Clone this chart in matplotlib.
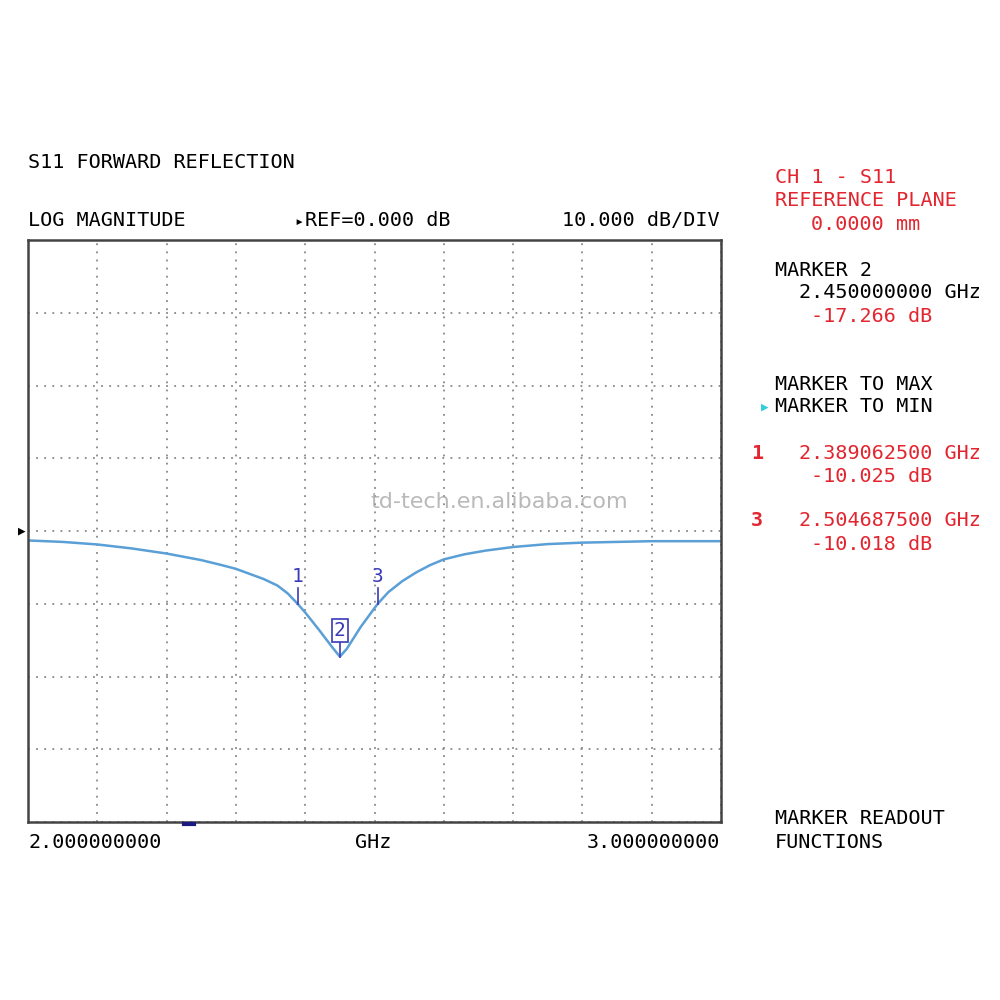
import matplotlib
matplotlib.use("Agg")
import matplotlib.pyplot as plt
import numpy as np

# S11 trace
freq_ghz = [2.00, 2.05, 2.10, 2.15, 2.20, 2.25, 2.28, 2.30, 2.32, 2.34, 2.36, 2.375,
            2.389, 2.40, 2.42, 2.44, 2.45, 2.46, 2.48, 2.50, 2.5047, 2.52, 2.54,
            2.56, 2.58, 2.60, 2.63, 2.66, 2.70, 2.75, 2.80, 2.85, 2.90, 2.95, 3.00]
s11_db = [-1.3, -1.5, -1.85, -2.4, -3.1, -4.0, -4.7, -5.2, -5.9, -6.6, -7.5, -8.6,
          -10.0, -11.2, -13.6, -16.1, -17.27, -16.2, -13.2, -10.6, -10.0, -8.4, -6.9,
          -5.7, -4.7, -3.9, -3.2, -2.7, -2.2, -1.8, -1.6, -1.5, -1.4, -1.4, -1.4]

marker_ids = ["1", "2", "3"]
marker_freq = [2.389062500, 2.450000000, 2.504687500]
marker_db = [-10.025, -17.266, -10.018]

MONO = "DejaVu Sans Mono"
FS = 14.5
RED = "#e2252f"
MK = "#3a3ab8"
TRACE = "#5a9fd6"

fig = plt.figure(figsize=(10, 10), dpi=100)
ax = fig.add_axes([0.028, 0.178, 0.693, 0.582])
ax.plot(freq_ghz, s11_db, color=TRACE, lw=1.8, solid_joinstyle="round")
ax.set_xlim(2.0, 3.0)
ax.set_ylim(-40, 40)
ax.set_xticks(np.linspace(2.0, 3.0, 11))
ax.set_yticks(np.linspace(-40, 40, 9))
ax.tick_params(length=0, labelbottom=False, labelleft=False)
ax.grid(True, color="#888888", linestyle=(0, (1, 3.5)), lw=1.3)
for s in ax.spines.values():
    s.set_color("#444444")
    s.set_linewidth(1.8)

# markers
for mid, f, v in zip(marker_ids, marker_freq, marker_db):
    if mid == "2":
        ax.plot([f, f], [v, v + 2.5], color=MK, lw=1.2)
        ax.text(f, v + 3.6, mid, ha="center", va="center", color=MK, fontsize=14,
                family=MONO, bbox=dict(boxstyle="square,pad=0.1", fc="white", ec=MK, lw=1.2))
    else:
        ax.plot([f, f], [v, v + 2.2], color=MK, lw=1.2)
        ax.text(f, v + 3.8, mid, ha="center", va="center", color=MK, fontsize=14, family=MONO)

# small bottom dash
ax.plot([2.225, 2.24], [-40.3, -40.3], color="#1a1a80", lw=3, clip_on=False, zorder=5)


def t(x, y, s, **kw):
    kw.setdefault("family", MONO)
    kw.setdefault("fontsize", FS)
    kw.setdefault("va", "center")
    fig.text(x / 1000, 1 - y / 1000, s, **kw)


t(28, 163, "S11 FORWARD REFLECTION")
t(28, 221, "LOG MAGNITUDE")
t(294, 221, "\u25b8", fontsize=11)
t(305, 221, "REF=0.000 dB")
t(720, 221, "10.000 dB/DIV", ha="right")
t(18, 531, "\u25b6", fontsize=9)

t(28, 842, "2.000000000")
t(373, 842, "GHz", ha="center")
t(720, 842, "3.000000000", ha="right")

t(775, 178, "CH 1 - S11", color=RED)
t(775, 200, "REFERENCE PLANE", color=RED)
t(811, 224, "0.0000 mm", color=RED)
t(775, 270, "MARKER 2")
t(799, 293, "2.450000000 GHz")
t(811, 316, "-17.266 dB", color=RED)
t(775, 384, "MARKER TO MAX")
t(761, 407, "\u25b6", fontsize=9, color="#33cce0")
t(775, 407, "MARKER TO MIN")
t(751, 453, "1", color=RED, weight="bold")
t(799, 453, "2.389062500 GHz", color=RED)
t(811, 476, "-10.025 dB", color=RED)
t(751, 521, "3", color=RED, weight="bold")
t(799, 521, "2.504687500 GHz", color=RED)
t(811, 545, "-10.018 dB", color=RED)
t(775, 819, "MARKER READOUT")
t(775, 843, "FUNCTIONS")

t(499, 502, "td-tech.en.alibaba.com", family="DejaVu Sans", fontsize=16,
  color="#a8a8a8", ha="center", alpha=0.8)

fig.savefig("out.png", dpi=100, facecolor="white")
